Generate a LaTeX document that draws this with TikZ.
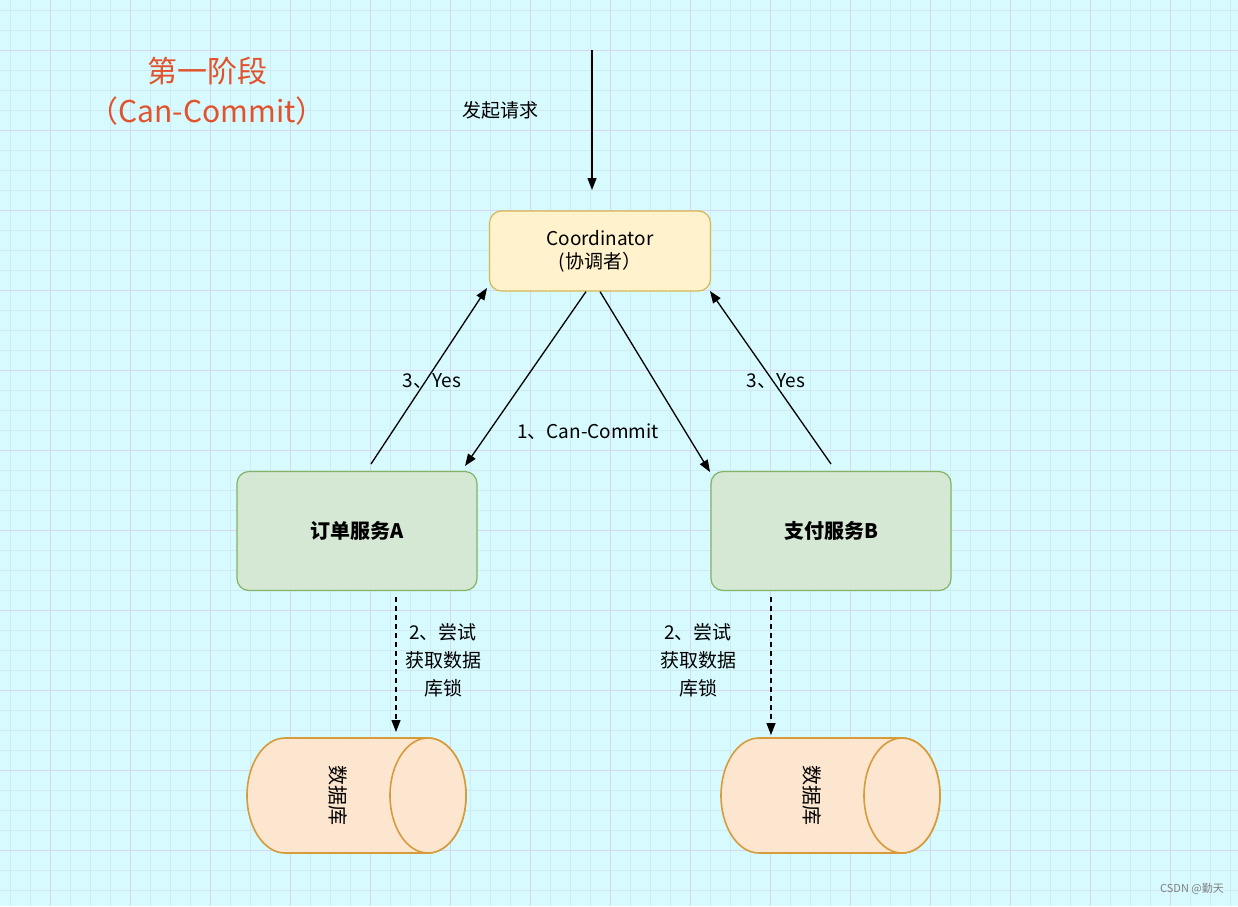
\documentclass[tikz,border=0pt]{standalone}
\usepackage{fontspec}
\setmainfont{Noto Sans CJK SC}
\usetikzlibrary{arrows.meta}
\definecolor{bg}{RGB}{214,250,253}
\definecolor{gmin}{RGB}{208,234,242}
\definecolor{gmaj}{RGB}{214,214,240}
\definecolor{ttl}{RGB}{226,82,45}
\definecolor{cylS}{RGB}{214,155,58}
\definecolor{cylF}{RGB}{252,230,207}
\begin{document}
\begin{tikzpicture}[x=1pt,y=-1pt,
  lbl/.style={font=\fontsize{19}{23}\selectfont,align=center,inner sep=1pt},
  box/.style={draw,rounded corners=12pt,line width=1.2pt,font=\fontsize{19}{23}\selectfont,align=center,inner sep=0},
  arr/.style={-{Triangle[length=12pt,width=9pt]},line width=1.3pt},
  cyl/.style={draw=cylS,fill=cylF,line width=1.6pt}]
\fill[bg] (0,0) rectangle (1238,906);
\useasboundingbox (0,0) rectangle (1238,906);
\foreach \x in {10,30,...,1238} \draw[gmin,line width=0.8pt] (\x,0)--(\x,906);
\foreach \y in {10,30,...,906} \draw[gmin,line width=0.8pt] (0,\y)--(1238,\y);
\foreach \x in {50,130,...,1238} \draw[gmaj,line width=1pt] (\x,0)--(\x,906);
\foreach \y in {50,130,...,906} \draw[gmaj,line width=1pt] (0,\y)--(1238,\y);
\node[text=ttl,font=\fontsize{30}{40}\selectfont,align=center] (title) at (207,91) {第一阶段\\（Can-Commit）};
\coordinate (start) at (592,50);
\coordinate (t1) at (592,190);
\node[lbl] (req) at (500,110) {发起请求};
\node[box,draw={rgb,255:red,214;green,182;blue,86},fill={rgb,255:red,255;green,242;blue,204},minimum width=221pt,minimum height=80pt] (coord) at (600,251) {Coordinator\\(协调者）};
\node[box,draw={rgb,255:red,130;green,179;blue,102},fill={rgb,255:red,213;green,232;blue,212},minimum width=240pt,minimum height=119pt,font=\fontsize{20}{23}\selectfont\bfseries] (A) at (357,531) {订单服务A};
\node[box,draw={rgb,255:red,130;green,179;blue,102},fill={rgb,255:red,213;green,232;blue,212},minimum width=240pt,minimum height=119pt,font=\fontsize{20}{23}\selectfont\bfseries] (B) at (831,531) {支付服务B};
\draw[arr] (start) -- (t1);
\coordinate (a1) at (371,464);
\coordinate (b1) at (831,464);
\draw[arr] (a1) -- (487,288);
\draw[arr] (coord.south -| 586,0) -- (465,466);
\draw[arr] (coord.south -| 600,0) -- (710,472);
\draw[arr] (b1) -- (710,291);
\node[lbl] (y1) at (432,381) {3、Yes};
\node[lbl] (y2) at (776,381) {3、Yes};
\node[lbl] (cc) at (588,432) {1、Can-Commit};
\foreach \cx/\nm in {357/dbA,831/dbB}{
  \draw[cyl] (\cx-72,738) -- (\cx+71,738) arc[start angle=90,end angle=-90,x radius=38pt,y radius=57.5pt] -- (\cx-72,853) arc[start angle=270,end angle=90,x radius=38pt,y radius=57.5pt] -- cycle;
  \draw[cyl] (\cx+71,795.5) ellipse[x radius=38pt,y radius=57.5pt];
  \node[rotate=-90,font=\fontsize{20}{23}\selectfont] (\nm) at (\cx-19,795.5) {数据库};
}
\draw[arr,dash pattern=on 5pt off 4pt] (396,597) -- (396,732);
\draw[arr,dash pattern=on 5pt off 4pt] (771,597) -- (771,735);
\node[lbl,font=\fontsize{19}{28}\selectfont] (l1) at (443,660) {2、尝试\\获取数据\\库锁};
\node[lbl,font=\fontsize{19}{28}\selectfont] (l2) at (698,660) {2、尝试\\获取数据\\库锁};
\node[text=gray,font=\fontsize{11}{13}\selectfont] (wm) at (1192,889) {CSDN @勤天};
\end{tikzpicture}
\end{document}
